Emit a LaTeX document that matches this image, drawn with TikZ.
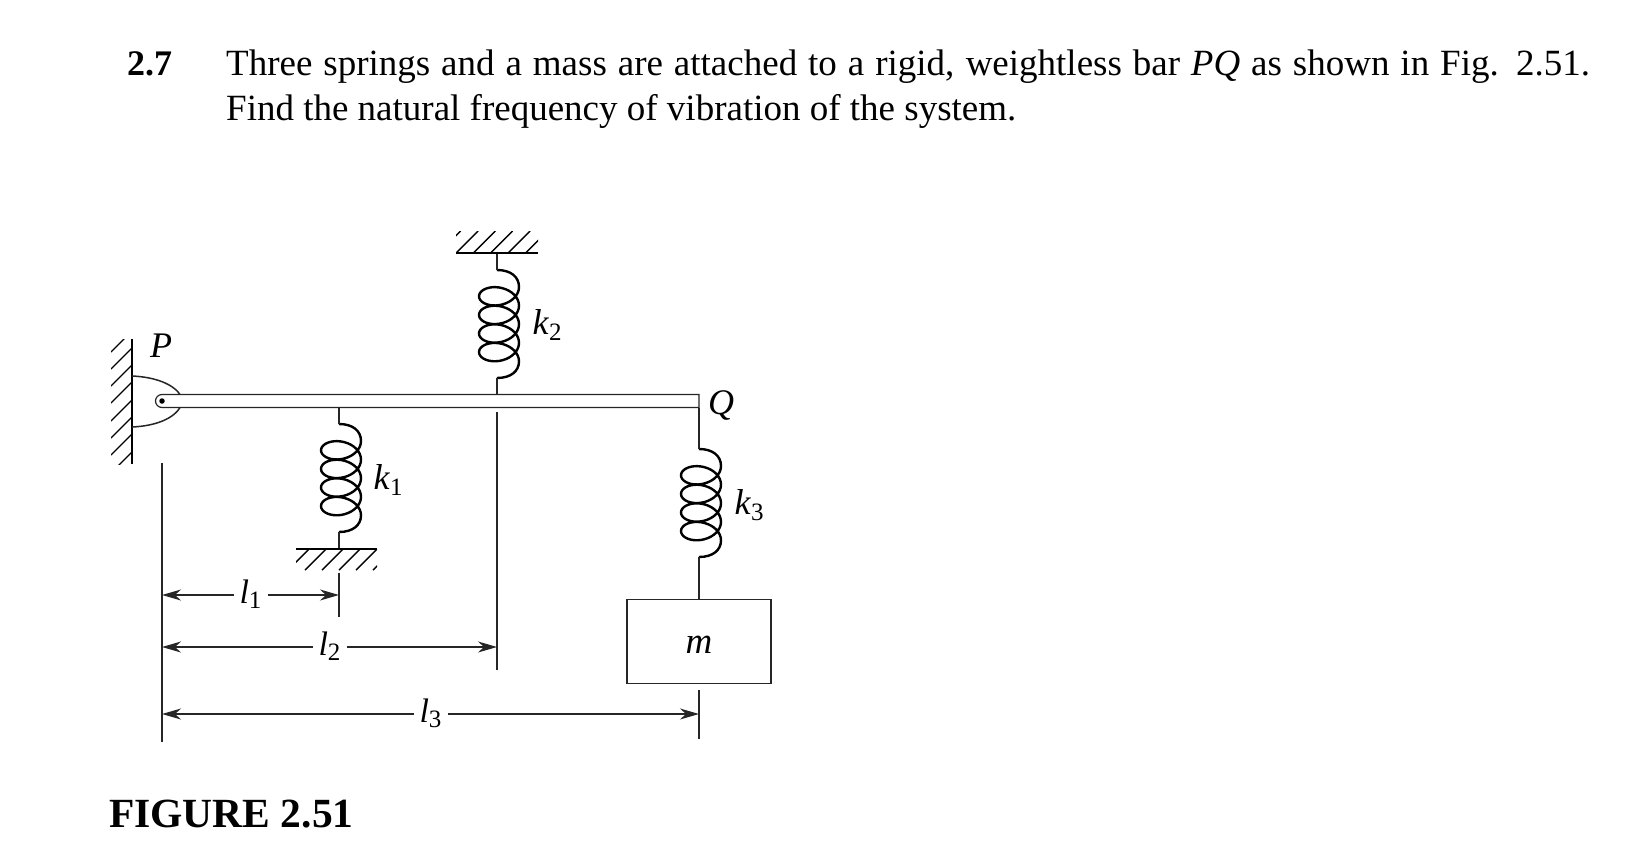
\documentclass[tikz,border=0pt]{standalone}
\usepackage{fontspec}
\setmainfont{Liberation Serif}
\usetikzlibrary{arrows.meta}
\newcommand{\symb}[2]{\textit{#1}\raisebox{-0.32ex}{\fontsize{25}{25}\selectfont #2}}
\newcommand{\coil}[1]{%
  \begin{scope}[shift={(#1)}]
    \draw[springline] (0,0) .. controls (14,0) and (22,7) .. (22,17)
      -- plot[domain=0:1440,samples=145] ({2+20*cos(\x)},{17+13.5*sin(\x)+\x/360*18.6})
      .. controls (22,101) and (14,108) .. (0,108);
  \end{scope}}
\begin{document}
\begin{tikzpicture}[x=1pt,y=-1pt]
    \tikzset{springline/.style={line width=2.4pt,line join=round}}
    \tikzset{wire/.style={line width=1.5pt,draw=black!85}}
    \tikzset{hatchline/.style={line width=1.4pt}}
    \tikzset{thinline/.style={line width=1.3pt,draw=black!85}}
    \tikzset{dimline/.style={line width=1.3pt,draw=black!85,{Stealth[length=19pt,width=11pt,inset=6pt]}-{Stealth[length=19pt,width=11pt,inset=6pt]}}}
    \tikzset{dimlabel/.style={fill=white,inner sep=0pt,minimum width=34pt,minimum height=30pt,font=\fontsize{34}{34}\selectfont}}
    \tikzset{symlabel/.style={inner sep=0pt,font=\fontsize{36}{36}\selectfont}}
    \useasboundingbox (0,0) rectangle (1646,854);

    % text
    \node[anchor=base west,inner sep=0pt,font=\bfseries\fontsize{36}{36}\selectfont] (num) at (127,75) {2.7};
    \node[anchor=base west,inner sep=0pt,text width=1364pt,align=justify,font=\fontsize{37}{45}\selectfont] (task) at (226,75)
      {Three springs and a mass are attached to a rigid, weightless bar \textit{PQ} as shown in Fig. 2.51.\linebreak Find the natural frequency of vibration of the system.};
    \node[anchor=base west,inner sep=0pt,font=\bfseries\fontsize{41.5}{41.5}\selectfont] (caption) at (109,827) {FIGURE 2.51};

    % wall and support at P
    \begin{scope}
      \clip (111,339) rectangle (132,464);
      \foreach \y in {331,348,365,382,400,417,434,452}
        \draw[hatchline] (132,\y) -- ++(-21,21);
    \end{scope}
    \draw[hatchline] (132,339) -- (132,464);
    \draw[wire] (132,376) .. controls (155,377) and (174,384) .. (181,396);
    \draw[wire] (132,427) .. controls (155,426) and (174,419) .. (181,406);

    % bar
    \coordinate (P) at (162,401);
    \coordinate (Q) at (699,394.5);
    \coordinate (Qb) at (699,407.5);
    \coordinate (B1) at (339,407.5);
    \coordinate (B2) at (497,394.5);
    \coordinate (B2b) at (497,412);
    \draw[line width=1.2pt,draw=black!85,fill=white] (Q) -- (Qb) -- (162,407.5) arc (90:270:6.5) -- cycle;
    \node[circle,fill=black,inner sep=0pt,minimum size=5.5pt] (pin) at (P) {};

    % springs
    \coordinate (k1top) at (339,424);
    \coordinate (k1end) at (339,532);
    \coordinate (G1) at (339,549);
    \coordinate (k2top) at (497,270);
    \coordinate (k2end) at (497,378);
    \coordinate (G2) at (497,253);
    \coordinate (k3top) at (699,449);
    \coordinate (k3end) at (699,557);
    \coil{k1top}
    \coil{k2top}
    \coil{k3top}
    \draw[wire] (B1) -- (k1top);
    \draw[wire] (k1end) -- (G1);
    \draw[wire] (G2) -- (k2top);
    \draw[wire] (k2end) -- (B2);
    \draw[wire] (Qb) -- (k3top);

    % ground under k1
    \begin{scope}
      \clip (296,549) rectangle (377,570);
      \foreach \x in {309,326,343,360,377,394}
        \draw[hatchline] (\x,549) -- ++(-21,21);
    \end{scope}
    \draw[hatchline] (296,549) -- (377,549);
    % ceiling over k2
    \begin{scope}
      \clip (456,231) rectangle (538,253);
      \foreach \x in {438.5,456,473.3,490.6,508,525.5}
        \draw[hatchline] (\x,253) -- ++(22,-22);
    \end{scope}
    \draw[hatchline] (456,253) -- (538,253);

    % mass
    \node[draw=black!85,line width=1.4pt,minimum width=144pt,minimum height=84pt,inner sep=0pt,font=\fontsize{37}{37}\selectfont\itshape] (mass) at (699,641.5) {\raisebox{-11.5pt}[0pt][0pt]{m}};
    \draw[wire] (k3end) -- (mass.north);

    \node[symlabel] (P label) at (161,346) {\textit{P}};
    \node[symlabel] (Q label) at (721,405) {\textit{Q}};
    \node[symlabel] (k1 label) at (388,480) {\symb{k}{1}};
    \node[symlabel] (k2 label) at (547,325) {\symb{k}{2}};
    \node[symlabel] (k3 label) at (749,505) {\symb{k}{3}};

    % dimensions
    \coordinate (d0a) at (162,463);
    \coordinate (d0b) at (162,742);
    \coordinate (d1a) at (339,573);
    \coordinate (d1b) at (339,617);
    \coordinate (d3a) at (699,690);
    \coordinate (d3b) at (699,739);
    \coordinate (d2b) at (497,670);
    \draw[thinline] (d0a) -- (d0b);
    \draw[thinline] (d1a) -- (d1b);
    \draw[thinline] (B2b) -- (d2b);
    \draw[thinline] (d3a) -- (d3b);
    \draw[dimline] (162,595) -- node[dimlabel] (l1) {\raisebox{-8pt}[0pt][0pt]{\symb{l}{1}}} (339,595);
    \draw[dimline] (162,647) -- node[dimlabel] (l2) {\raisebox{-8pt}[0pt][0pt]{\symb{l}{2}}} (497,647);
    \draw[dimline] (162,714) -- node[dimlabel] (l3) {\raisebox{-8pt}[0pt][0pt]{\symb{l}{3}}} (699,714);
\end{tikzpicture}
\end{document}
